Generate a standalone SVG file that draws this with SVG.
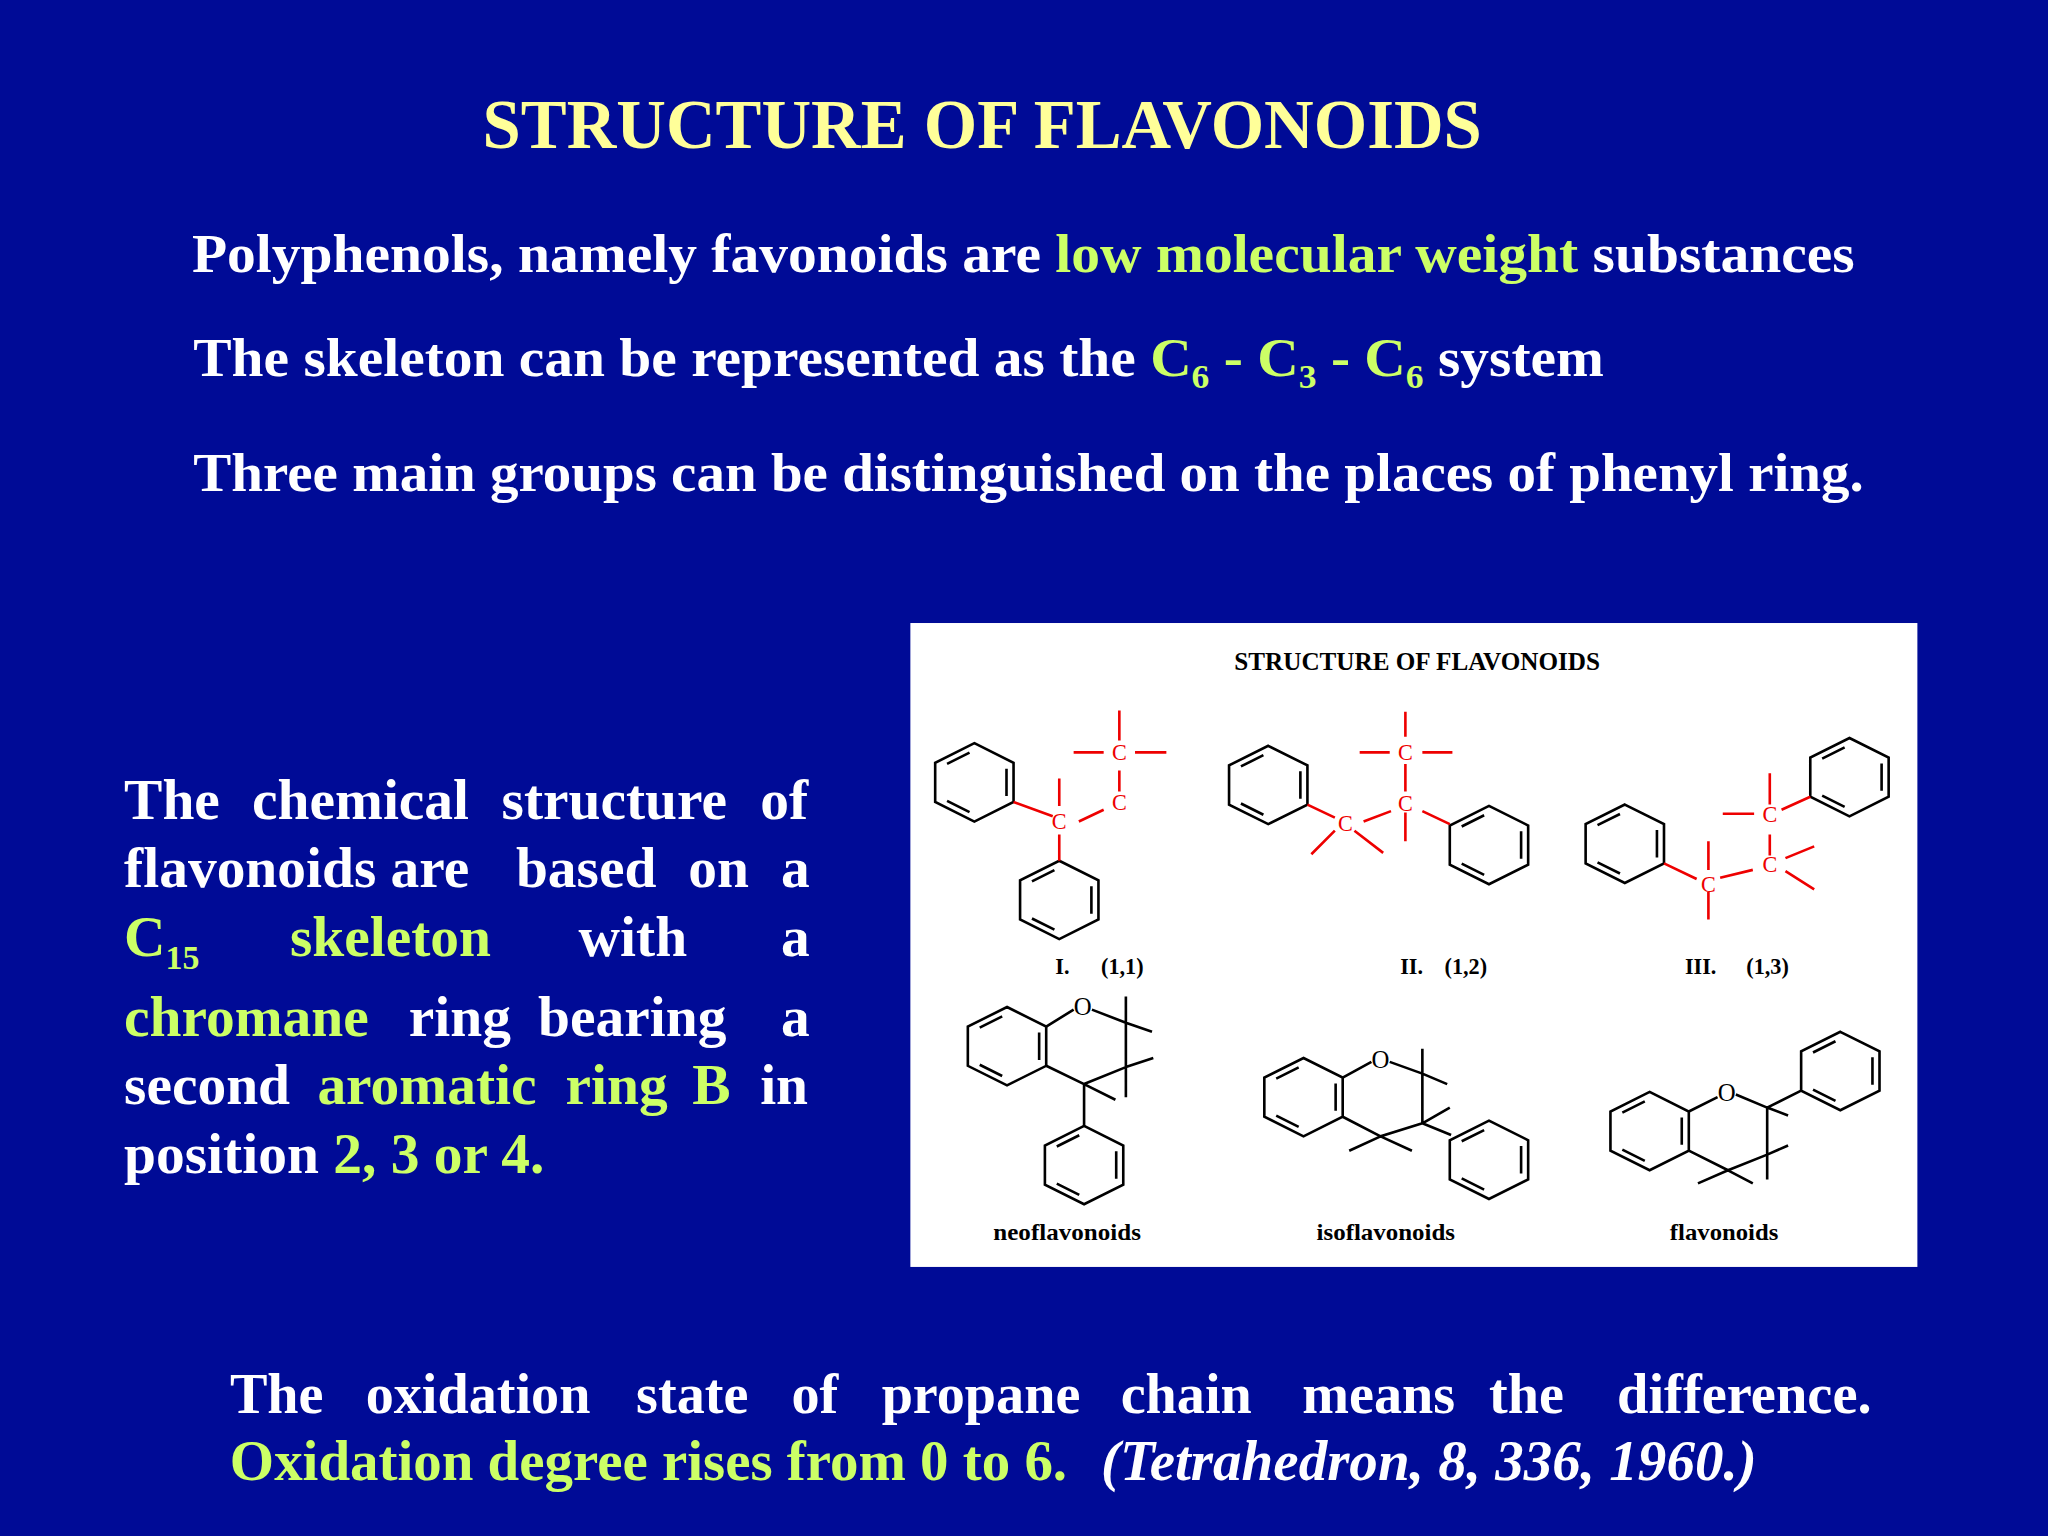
<svg xmlns="http://www.w3.org/2000/svg" xmlns:xlink="http://www.w3.org/1999/xlink" width="2048" height="1536" viewBox="0 0 2048 1536">
<defs>
<style>
.w{font-family:"Liberation Serif",serif;font-weight:bold;fill:#fff;font-size:44px}
.g{fill:#ccff66}
.t{font-family:"Liberation Serif",serif;font-weight:bold;fill:#000;font-size:19px}
.l{font-family:"Liberation Serif",serif;font-weight:bold;fill:#000;font-size:17px}
.c{font-family:"Liberation Serif",serif;fill:#e00;font-size:17px;text-anchor:middle}
.o{font-family:"Liberation Serif",serif;fill:#000;font-size:19px;text-anchor:middle}
.bk{stroke:#000;stroke-width:2;fill:none}
.rd{stroke:#e00;stroke-width:2;fill:none}
</style>
<symbol id="bz" overflow="visible">
<path d="M0,-30L30,-15L30,15L0,30L-30,15L-30,-15Z M-20.9,-14.2L-3.7,-22.8 M24.6,-10.5L24.6,10.5 M-3.7,22.8L-20.9,14.2" stroke="#000" stroke-width="2" fill="none"/>
</symbol>
</defs>
<rect width="2048" height="1536" fill="#000b96"/>
<g transform="scale(1.30612)">
<g id="texts">
<text x="752" y="113" text-anchor="middle" style="font-family:'Liberation Serif',serif;font-weight:bold;font-size:54px;fill:#ffff99" textLength="765" lengthAdjust="spacingAndGlyphs">STRUCTURE OF FLAVONOIDS</text>
<text class="w" x="147" y="208" style="font-size:42px" textLength="1273" lengthAdjust="spacingAndGlyphs">Polyphenols, namely  favonoids are <tspan class="g">low molecular weight</tspan> substances</text>
<text class="w" x="148" y="288" style="font-size:42px" textLength="1080" lengthAdjust="spacingAndGlyphs">The skeleton can be represented as the  <tspan class="g">C<tspan font-size="26" dy="9">6</tspan><tspan dy="-9"> - C</tspan><tspan font-size="26" dy="9">3</tspan><tspan dy="-9"> - C</tspan><tspan font-size="26" dy="9">6</tspan></tspan><tspan dy="-9"> system</tspan></text>
<text class="w" x="148" y="376" style="font-size:42px" textLength="1279" lengthAdjust="spacingAndGlyphs">Three main groups can be distinguished on the places of phenyl ring.</text>
<g class="w">
<text x="95" y="627">The</text><text x="193" y="627">chemical</text><text x="384" y="627">structure</text><text x="582" y="627">of</text>
<text x="95" y="679">flavonoids</text><text x="299" y="679">are</text><text x="395" y="679">based</text><text x="527" y="679">on</text><text x="598" y="679">a</text>
<text x="95" y="732" class="g">C<tspan font-size="26" dy="10">15</tspan></text><text x="222" y="732" class="g">skeleton</text><text x="443" y="732">with</text><text x="598" y="732">a</text>
<text x="95" y="793" class="g">chromane</text><text x="313" y="793">ring</text><text x="412" y="793">bearing</text><text x="598" y="793">a</text>
<text x="95" y="845">second</text><text x="243" y="845" class="g">aromatic</text><text x="433" y="845" class="g">ring</text><text x="530" y="845" class="g">B</text><text x="582" y="845">in</text>
<text x="95" y="898">position <tspan class="g">2, 3 or 4.</tspan></text>
</g>
<g class="w" style="font-size:43px">
<text x="176" y="1082">The</text><text x="280" y="1082">oxidation</text><text x="487" y="1082">state</text><text x="606" y="1082">of</text><text x="675" y="1082">propane</text><text x="858" y="1082">chain</text><text x="997" y="1082">means</text><text x="1140" y="1082">the</text><text x="1238" y="1082" textLength="195" lengthAdjust="spacingAndGlyphs">difference.</text>
<text x="176" y="1133" class="g" textLength="641" lengthAdjust="spacingAndGlyphs">Oxidation degree rises from 0 to 6.</text>
<text x="843" y="1133" font-style="italic" textLength="502" lengthAdjust="spacingAndGlyphs">(Tetrahedron, 8, 336, 1960.)</text>
</g>
</g>
<g id="panel">
<rect x="697" y="477" width="771" height="493" fill="#fff"/>
<text class="t" x="1085" y="513" text-anchor="middle" textLength="280" lengthAdjust="spacingAndGlyphs">STRUCTURE OF FLAVONOIDS</text>
</g>
<g id="struct-I">
<use xlink:href="#bz" x="746" y="599"/>
<use xlink:href="#bz" x="811" y="689"/>
<path class="rd" d="M776,614L806,625 M811,596V617 M811,639V659 M826,629L845,620 M857,590V606 M857,544V567 M822,576H845 M869,576H893"/>
<text class="c" x="811" y="635">C</text><text class="c" x="857" y="620">C</text><text class="c" x="857" y="582">C</text>
<text class="l" x="808" y="746">I.</text><text class="l" x="843" y="746">(1,1)</text>
</g>
<g id="struct-II">
<use xlink:href="#bz" x="971" y="601"/>
<use xlink:href="#bz" x="1140" y="647"/>
<path class="rd" d="M1001,616L1022,626 M1022,636L1004,654 M1037,636L1059,653 M1044,629L1065,621 M1076,585V606 M1076,622V644 M1076,545V564 M1041,576H1064 M1089,576H1112 M1089,621L1110,631"/>
<text class="c" x="1030" y="636">C</text><text class="c" x="1076" y="621">C</text><text class="c" x="1076" y="582">C</text>
<text class="l" x="1072" y="746">II.</text><text class="l" x="1106" y="746">(1,2)</text>
</g>
<g id="struct-III">
<use xlink:href="#bz" x="1244" y="646"/>
<use xlink:href="#bz" x="1416" y="595"/>
<path class="rd" d="M1274,661L1299,673 M1308,644V666 M1308,683V704 M1317,672L1342,666 M1355,639V655 M1367,657L1389,648 M1367,667L1389,681 M1355,592V616 M1319,623H1343 M1364,620L1386,610"/>
<text class="c" x="1308" y="683">C</text><text class="c" x="1355" y="668">C</text><text class="c" x="1355" y="629">C</text>
<text class="l" x="1290" y="746">III.</text><text class="l" x="1337" y="746">(1,3)</text>
</g>
<g id="neoflavonoids">
<use xlink:href="#bz" x="771" y="801"/>
<path class="bk" d="M801,786L822,773 M836,773L862,783 M862,763V840 M862,783L882,790 M862,817L883,810 M862,817L830,830 L801,816 M830,830L854,842 M830,830V862"/>
<text class="o" x="829" y="777">O</text>
<use xlink:href="#bz" x="830" y="892"/>
<text class="l" x="817" y="949" text-anchor="middle" textLength="113" lengthAdjust="spacingAndGlyphs">neoflavonoids</text>
</g>
<g id="isoflavonoids">
<use xlink:href="#bz" x="998" y="840"/>
<path class="bk" d="M1028,825L1050,813 M1064,813L1089,822 M1089,803V861 M1089,822L1108,830 M1089,860L1110,848 M1089,860L1111,869 M1089,860L1057,870 L1028,855 M1057,870L1033,881 M1057,870L1081,881"/>
<text class="o" x="1057" y="818">O</text>
<use xlink:href="#bz" x="1140" y="888"/>
<text class="l" x="1061" y="949" text-anchor="middle" textLength="106" lengthAdjust="spacingAndGlyphs">isoflavonoids</text>
</g>
<g id="flavonoids">
<use xlink:href="#bz" x="1263" y="866"/>
<path class="bk" d="M1293,851L1315,840 M1329,838L1353,848 M1353,848L1379,835 M1353,848L1369,854 M1353,848V903 M1353,884L1369,877 M1353,884L1323,896 L1293,881 M1323,896L1300,906 M1323,896L1342,906"/>
<text class="o" x="1322" y="843">O</text>
<use xlink:href="#bz" x="1409" y="820"/>
<text class="l" x="1320" y="949" text-anchor="middle" textLength="83" lengthAdjust="spacingAndGlyphs">flavonoids</text>
</g>
</g>
</svg>
